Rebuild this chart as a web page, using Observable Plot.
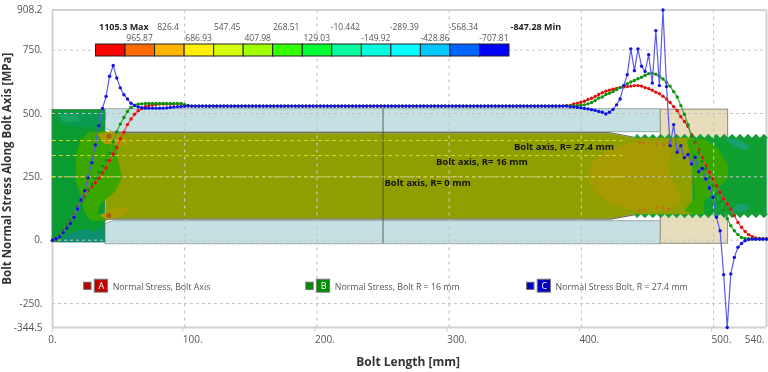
<!DOCTYPE html>
<html><head><meta charset="utf-8">
<script src="https://cdn.jsdelivr.net/npm/d3@7"></script>
<script src="https://cdn.jsdelivr.net/npm/@observablehq/plot@0.6"></script>
<style>
html,body{margin:0;padding:0;background:#fff}
#c{position:relative;width:768px;height:372px;overflow:hidden}
#c svg{position:absolute;left:0;top:0;background:transparent;filter:blur(.35px)}
</style></head><body><div id="c"></div>
<script>
const xStep = 2.7;
const stressAxis = [
0,6,22,41,61,80,103,132,156,176,
195,211,227,244,265,285,314,340,366,400,
426,456,478,497,511,519,527,531,533,535,
537,537,537,537,537,537,537,533,531,529,
529,529,529,529,529,529,529,529,529,529,
529,529,529,529,529,529,529,529,529,529,
529,529,529,529,529,529,529,529,529,529,
529,529,529,529,529,529,529,529,529,529,
529,529,529,529,529,529,529,529,529,529,
529,529,529,529,529,529,529,529,529,529,
529,529,529,529,529,529,529,529,529,529,
529,529,529,529,529,529,529,529,529,529,
529,529,529,529,529,529,529,529,529,529,
529,529,529,529,529,529,529,529,529,529,
529,529,529,530,531,532,538,540,544,548,
555,560,567,575,582,588,592,596,599,602,
604,606,608,610,610,608,602,598,592,584,
578,568,557,543,527,511,487,468,449,416,
386,357,325,294,268,242,215,189,163,143,
123,97,70,51,34,22,14,9,7,6,6];
const stressR16 = [
0,6,22,41,61,80,103,128,150,168,
200,222,244,268,292,315,342,388,428,458,
484,508,524,533,537,538,539,539,539,539,
539,539,539,539,539,539,539,535,531,529,
529,529,529,529,529,529,529,529,529,529,
529,529,529,529,529,529,529,529,529,529,
529,529,529,529,529,529,529,529,529,529,
529,529,529,529,529,529,529,529,529,529,
529,529,529,529,529,529,529,529,529,529,
529,529,529,529,529,529,529,529,529,529,
529,529,529,529,529,529,529,529,529,529,
529,529,529,529,529,529,529,529,529,529,
529,529,529,529,529,529,529,529,529,529,
529,529,529,529,529,529,529,529,529,529,
529,529,529,529,530,530,530,531,533,534,
538,543,551,561,565,575,580,586,594,602,
610,617,624,630,637,643,651,657,659,655,
647,636,622,608,586,565,531,497,456,409,
389,344,311,282,248,215,182,151,118,85,
57,37,22,11,7,6,5,5,5,5,5];
const stressR274 = [
0,6,14,30,48,66,90,123,159,195,
246,306,376,452,520,567,647,689,640,601,
574,557,540,531,526,523,521,521,521,521,
521,521,522,524,525,526,527,528,529,529,
529,529,529,529,529,529,529,529,529,529,
529,529,529,529,529,529,529,529,529,529,
529,529,529,529,529,529,529,529,529,529,
529,529,529,529,529,529,529,529,529,529,
529,529,529,529,529,529,529,529,529,529,
529,529,529,529,529,529,529,529,529,529,
529,529,529,529,529,529,529,529,529,529,
529,529,529,529,529,529,529,529,529,529,
529,529,529,529,529,529,529,529,529,529,
529,529,529,529,529,529,529,529,529,529,
529,529,529,529,529,526,526,524,523,520,
518,515,512,508,505,498,505,516,534,557,
610,653,755,669,755,686,666,732,620,827,
610,908,606,373,456,347,373,325,338,301,
327,270,283,242,206,169,90,37,-136,-344.5,
-133,-68,-28,-13,-2,3,4,4,4,4,4];

const xTicksMid = [100,200,300,400,500];
const yTicks = [908.2,750,500,250,0,-250,-344.5];
const gridX = [100,200,300,400,500];
const gridY = [750,500,250,-250,0];

const barColors = ["#ff0000","#ff6a00","#ffb400","#fff000","#d4ff00","#a0ff00","#33ff00","#00ff33","#00ffa0","#00ffdd","#00ffff","#00c8ff","#0064ff","#0000ff"];
const barEdges = d3.range(barColors.length);
const upperLabels = ["826.4","547.45","268.51","-10.442","-289.39","-568.34"];
const lowerLabels = ["965.87","686.93","407.98","129.03","-149.92","-428.86","-707.81"];

const sleeveTop = [[40,519],[460,519],[460,428],[46,428],[40,440]];
const sleeveBottom = [[40,-14],[460,-14],[460,77],[46,77],[40,65]];
const shaftOlive = [[40,422],[422,422],[440,404],[484,404],[484,102],[440,102],[422,85],[40,85]];
const shaftEdgeTop = [[40,424],[422,424],[440,406]];
const shaftEdgeBottom = [[40,83],[422,83],[440,100]];
const threadCrests = [442,448,454,460,466,472,478,484,490,496,502,508,514,520,526,532,538];
const threadOutline = [
  [440,403], ...threadCrests.flatMap(c=>[[c,419],[c+3,403]]),
  [540,403],[540,103],
  ...threadCrests.slice().reverse().flatMap(c=>[[c+3,103],[c,88]]),
  [440,103]];
const headBlobGreen = [[18,340],[21,393],[27.5,426],[40,432],[49,406],[49,327],[52.7,248],[47.7,195],[36.3,143],[33.8,103],[41.4,77],[28.8,77],[23.7,116],[21,182],[17.4,235]];
const headTeal1 = [[4,505],[40,505],[40,470],[30,445],[12,450],[4,470]];
const headTeal2 = [[6,0],[12,25],[25,45],[32,30],[38,55],[40,-8],[6,-8]];
const headLight = [[5,495],[18,500],[20,470],[8,465]];
const haloTop = [[33.8,419],[44,430],[59,393],[54,373],[39,380]];
const haloBottom = [[35,97],[46.4,123],[59,130],[54,97],[41,83]];
const goldBlob = [[404.5,255],[409.5,320],[422,366],[440,386],[460,393],[467.5,373],[467.5,327],[465,294],[467.5,255],[474,182],[475,143],[460,116],[440,116],[422,143],[409.5,195]];
const midGreen = [[480,399],[492.7,399],[502.8,366],[510.4,301],[511,248],[502.8,202],[492.7,156],[492.7,103],[484,103],[477.6,116],[486.4,169],[485,235],[482.6,314]];
const threadTeal1 = [[508,399],[518,399],[527,373],[525.5,353],[516.6,366]];
const threadTeal2 = [[513,116],[518,143],[525.5,143],[527,123],[520.4,110]];
const hotSpots = [[42.6,410],[42.6,97]];
const warmSpots = [[444,386],[447,382],[457,380],[462,376],[466,384],[444,116],[448,120],[457,130],[462,126],[466,122]];
const radiusLines = [393,334,250];
const radiusLabels = ["Bolt axis, R= 27.4 mm","Bolt axis, R= 16 mm","Bolt axis, R= 0 mm"];
const radiusLabelX = [349,290,251];
const radiusLabelY = [369,310,227];
const legendNames = ["Normal Stress, Bolt Axis","Normal Stress, Bolt R = 16 mm","Normal Stress Bolt, R = 27.4 mm"];
const legendKeys = ["A","B","C"];
const legendColors = ["#c00000","#008c00","#0000c0"];
const legendX = [24,192,359];

const poly = (pts,fill,extra={}) => Plot.line(pts,{x:d=>d[0],y:d=>d[1],fill,stroke:"none",curve:"linear-closed",...extra});
const edge = pts => Plot.line(pts,{x:d=>d[0],y:d=>d[1],stroke:"#6a7458",strokeWidth:1.2});
const series = (vals,line,dot) => [
  Plot.line(vals,{x:(d,i)=>i*xStep,y:d=>d,stroke:line,strokeWidth:1.2,curve:"linear"}),
  Plot.dot(vals,{x:(d,i)=>i*xStep,y:d=>d,r:1.7,fill:dot,stroke:"none"})
];
const legendIdx = [0,1,2];

const main = Plot.plot({
  width:768,height:372,marginLeft:52,marginRight:2,marginTop:9.5,marginBottom:45,
  style:{fontFamily:"'Open Sans',sans-serif",background:"transparent",overflow:"visible"},
  x:{domain:[0,540],label:null},
  y:{domain:[-344.5,908.2],label:null},
  marks:[
    Plot.ruleY([908.2,-344.5],{stroke:"#d2d2d2",strokeWidth:2}),
    Plot.ruleX([0,540],{stroke:"#d2d2d2",strokeWidth:2}),
    // geometry
    poly(sleeveTop,"#c5e0e2",{stroke:"#8a9a9c",strokeWidth:.8}),
    poly(sleeveBottom,"#c5e0e2",{stroke:"#8a9a9c",strokeWidth:.8}),
    Plot.rect([0],{x1:460,x2:511,y1:-14,y2:515,fill:"#e7dcbc",stroke:"#8f8a78",strokeWidth:1}),
    Plot.rect([0],{x1:0,x2:40,y1:-9,y2:514,fill:"#0a9c30",stroke:"#3a6a5a",strokeWidth:.6}),
    poly(headTeal1,"#0b9a52"),
    poly(headLight,"#14a560"),
    poly(headTeal2,"#0c9070"),
    poly(threadOutline,"#10a032",{stroke:"#2a9a6a",strokeWidth:.4}),
    poly(shaftOlive,"#8f9f00"),
    edge(shaftEdgeTop),
    edge(shaftEdgeBottom),
    poly(headBlobGreen,"#3aa600"),
    poly(haloTop,"#a89b00"),
    poly(haloBottom,"#a89b00"),
    Plot.dot(hotSpots,{x:d=>d[0],y:d=>d[1],r:2.5,fill:"#a85c10"}),
    poly(goldBlob,"#a69b00"),
    poly(midGreen,"#3aa600"),
    poly(threadTeal1,"#18a070"),
    poly(threadTeal2,"#18a070"),
    Plot.dot(warmSpots,{x:d=>d[0],y:d=>d[1],r:1.8,fill:"#b87a10"}),
    // grid
    Plot.gridX(gridX,{stroke:"#c4c4c4",strokeOpacity:1,strokeWidth:1.2,strokeDasharray:"3,4"}),
    Plot.gridY(gridY,{stroke:"#c4c4c4",strokeOpacity:1,strokeWidth:1,strokeDasharray:"3,3"}),
    Plot.ruleY(radiusLines,{x1:0,x2:434,stroke:"#d8d820",strokeWidth:1,strokeDasharray:"4,3"}),
    Plot.ruleX([250],{y1:-14,y2:519,stroke:"#444",strokeWidth:.8}),
    // curves
    ...series(stressAxis,"#e84848","#e01010"),
    ...series(stressR16,"#38a838","#109010"),
    ...series(stressR274,"#5a5aee","#1010e0"),
    // labels
    Plot.text(radiusLabels,{x:(d,i)=>radiusLabelX[i],y:(d,i)=>radiusLabelY[i],text:d=>d,textAnchor:"start",fontSize:9.5,fontWeight:700,fill:"#141414"}),
    // legend
    Plot.rect(legendIdx,{x1:i=>legendX[i],x2:i=>legendX[i]+5.5,y1:-196,y2:-168,fill:i=>legendColors[i],stroke:"#666",strokeWidth:1}),
    Plot.rect(legendIdx,{x1:i=>legendX[i]+8,x2:i=>legendX[i]+18,y1:-207,y2:-156,fill:i=>legendColors[i],stroke:"#777",strokeWidth:1}),
    Plot.text(legendIdx,{x:i=>legendX[i]+13,y:-182,text:i=>legendKeys[i],fontSize:9,fill:"#fff"}),
    Plot.text(legendIdx,{x:i=>legendX[i]+21.5,y:-186,text:i=>legendNames[i],textAnchor:"start",fontSize:8.8,fill:"#555"}),
    // axes
    Plot.axisY(yTicks,{tickSize:0,tickPadding:10,fill:"#555",fontSize:10,tickFormat:d=>Number.isInteger(d)?d+".":String(d),label:null}),
    Plot.axisX(xTicksMid,{tickSize:5,tickPadding:3,stroke:"#cfcfcf",fill:"#555",fontSize:10,textAnchor:"start",dx:-2,tickFormat:d=>d+".",label:null}),
    Plot.axisX([0],{tickSize:5,tickPadding:3,stroke:"#cfcfcf",fill:"#555",fontSize:10,tickFormat:d=>d+".",label:null}),
    Plot.axisX([540],{tickSize:0,tickPadding:8,fill:"#555",fontSize:10,textAnchor:"end",dx:-2,tickFormat:d=>d+".",label:null}),
    Plot.text(["Bolt Length [mm]"],{x:269,y:-480,fontSize:12,fontWeight:700,fill:"#333"}),
    Plot.text(["Bolt Normal Stress Along Bolt Axis [MPa]"],{x:-34,y:282,rotate:-90,fontSize:11.5,fontWeight:700,fill:"#333"})
  ]
});

const bar = Plot.plot({
  width:768,height:70,margin:0,
  style:{fontFamily:"'Open Sans',sans-serif",background:"transparent",overflow:"visible"},
  x:{domain:[0,14],range:[95.5,509],axis:null},
  y:{domain:[0,1],range:[56,44],axis:null},
  marks:[
    Plot.rect(barEdges,{x1:d=>d,x2:d=>d+1,y1:0,y2:1,fill:d=>barColors[d],stroke:"#222",strokeWidth:1}),
    Plot.text(upperLabels,{x:(d,i)=>2+2*i,y:2.42,dx:13,text:d=>d,fontSize:8.5,fill:"#555"}),
    Plot.text(lowerLabels,{x:(d,i)=>1+2*i,y:1.5,dx:14,text:d=>d,fontSize:8.5,fill:"#555"}),
    Plot.text(["1105.3 Max"],{x:0,y:2.42,dx:3,textAnchor:"start",text:d=>d,fontSize:9,fontWeight:700,fill:"#222"}),
    Plot.text(["-847.28 Min"],{x:14,y:2.42,dx:1,textAnchor:"start",text:d=>d,fontSize:9,fontWeight:700,fill:"#222"})
  ]
});
const c = document.getElementById("c");
c.append(main,bar);
</script></body></html>
